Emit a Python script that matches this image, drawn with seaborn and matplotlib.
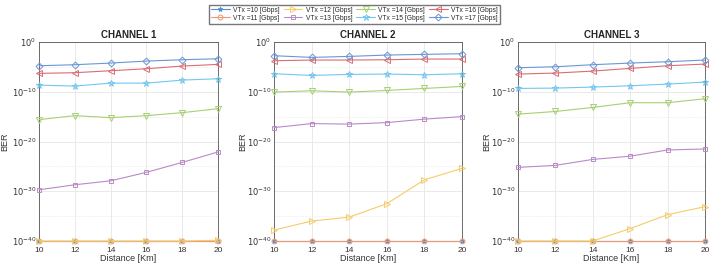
import numpy as np
import pandas as pd
import matplotlib
matplotlib.use("Agg")
import matplotlib.pyplot as plt
import seaborn as sns
from matplotlib.ticker import FixedLocator, NullFormatter

sns.set_style("white")
plt.rcParams['font.family'] = ['Liberation Sans', 'DejaVu Sans']

distance = [10, 12, 14, 16, 18, 20]
rates = [10, 11, 12, 13, 14, 15, 16, 17]
labels = [f"VTx ={r} [Gbps]" for r in rates]
titles = ["CHANNEL 1", "CHANNEL 2", "CHANNEL 3"]

# log10(BER), per channel, per VTx rate
ch1_vtx10 = [-40, -40, -40, -40, -40, -40]
ch1_vtx11 = [-40, -40, -40, -40, -40, -40]
ch1_vtx12 = [-40, -40, -40, -40, -40, -39.85]
ch1_vtx13 = [-29.7, -28.7, -27.9, -26.2, -24.2, -22.1]
ch1_vtx14 = [-15.6, -14.8, -15.2, -14.8, -14.2, -13.4]
ch1_vtx15 = [-8.66, -8.86, -8.26, -8.26, -7.65, -7.38]
ch1_vtx16 = [-6.3, -6.17, -5.77, -5.37, -4.83, -4.5]
ch1_vtx17 = [-4.77, -4.56, -4.23, -3.83, -3.56, -3.36]

ch2_vtx10 = [-40, -40, -40, -40, -40, -40]
ch2_vtx11 = [-40, -40, -40, -40, -40, -40]
ch2_vtx12 = [-37.8, -36.0, -35.2, -32.5, -27.7, -25.4]
ch2_vtx13 = [-17.2, -16.4, -16.5, -16.2, -15.5, -15.0]
ch2_vtx14 = [-10.07, -9.8, -10.07, -9.73, -9.33, -8.93]
ch2_vtx15 = [-6.38, -6.71, -6.51, -6.44, -6.58, -6.38]
ch2_vtx16 = [-3.76, -3.62, -3.62, -3.56, -3.42, -3.42]
ch2_vtx17 = [-2.75, -3.09, -2.89, -2.62, -2.48, -2.35]

ch3_vtx10 = [-40, -40, -40, -40, -40, -40]
ch3_vtx11 = [-40, -40, -40, -40, -40, -40]
ch3_vtx12 = [-40, -40, -40, -37.5, -34.7, -33.1]
ch3_vtx13 = [-25.2, -24.8, -23.6, -22.95, -21.7, -21.5]
ch3_vtx14 = [-14.5, -13.96, -13.15, -12.2, -12.2, -11.4]
ch3_vtx15 = [-9.33, -9.26, -9.06, -8.79, -8.46, -8.05]
ch3_vtx16 = [-6.44, -6.24, -5.84, -5.3, -4.77, -4.43]
ch3_vtx17 = [-5.17, -4.97, -4.56, -4.23, -3.96, -3.62]

channels = [
    [ch1_vtx10, ch1_vtx11, ch1_vtx12, ch1_vtx13, ch1_vtx14, ch1_vtx15, ch1_vtx16, ch1_vtx17],
    [ch2_vtx10, ch2_vtx11, ch2_vtx12, ch2_vtx13, ch2_vtx14, ch2_vtx15, ch2_vtx16, ch2_vtx17],
    [ch3_vtx10, ch3_vtx11, ch3_vtx12, ch3_vtx13, ch3_vtx14, ch3_vtx15, ch3_vtx16, ch3_vtx17],
]

colors = ["#4d8fd6", "#ea9a72", "#f5cc6a", "#b98ac8", "#a8cf74", "#74c6ee", "#dc6b74", "#6a97d6"]
markers = ["*", "o", ">", "s", "v", "*", "<", "D"]
msizes = [3.5, 3.5, 4.5, 3.5, 4.5, 4.5, 4.5, 3.5]

fig = plt.figure(figsize=(7.09, 2.66), dpi=100)
positions = [
    [39/709, 0.094, 179/709, 0.748],
    [274/709, 0.094, 188/709, 0.748],
    [518/709, 0.094, 187/709, 0.748],
]
ylabel_x = [-0.165, -0.14, -0.145]

handles = []
for ci, series in enumerate(channels):
    ax = fig.add_axes(positions[ci])
    for si, s in enumerate(series):
        df = pd.DataFrame({"Distance": distance, "BER": 10.0 ** np.array(s, dtype=float)})
        filled = si == 0
        sns.lineplot(data=df, x="Distance", y="BER", ax=ax, color=colors[si],
                     marker=markers[si], markersize=msizes[si],
                     markerfacecolor=colors[si] if filled else "none",
                     markeredgecolor=colors[si], markeredgewidth=0.7,
                     linewidth=0.8, label=labels[si], legend=False, clip_on=False, zorder=3)
    ax.set_yscale("log")
    ax.set_ylim(1e-40, 1e0)
    ax.set_xlim(10, 20)
    ax.set_xticks(distance)
    ax.yaxis.set_major_locator(FixedLocator([1e0, 1e-10, 1e-20, 1e-30, 1e-40]))
    ax.yaxis.set_minor_locator(FixedLocator([1e-5, 1e-15, 1e-25, 1e-35]))
    ax.yaxis.set_minor_formatter(NullFormatter())
    ax.set_yticklabels([r"$10^{0}$", r"$10^{-10}$", r"$10^{-20}$", r"$10^{-30}$", r"$10^{-40}$"])
    ax.grid(True, which="major", color="#e6e6e6", linewidth=0.6, linestyle="-")
    ax.grid(True, which="minor", axis="y", color="#e6e6e6", linewidth=0.6, linestyle=":")
    ax.tick_params(axis="both", which="both", labelsize=6, colors="#333333", length=2,
                   direction="in", pad=2)
    ax.tick_params(axis="x", pad=4)
    ax.tick_params(axis="y", which="minor", length=0)
    for sp in ax.spines.values():
        sp.set_color("#555555")
        sp.set_linewidth(0.6)
    ax.set_title(titles[ci], fontsize=7, fontweight="bold", pad=3)
    ax.set_xlabel("Distance [Km]", fontsize=6.5, color="#333333", labelpad=0.5)
    ax.set_ylabel("BER", fontsize=6.5, color="#333333")
    ax.yaxis.set_label_coords(ylabel_x[ci], 0.5)
    if ci == 0:
        handles = ax.get_lines()[:8]

fig.legend(handles=handles, labels=labels, loc="upper center", bbox_to_anchor=(0.5, 0.995),
           ncol=4, fontsize=4.8, frameon=True, fancybox=False, edgecolor="#555555",
           handlelength=2.8, columnspacing=0.6, borderpad=0.3, labelspacing=0.15,
           handletextpad=0.5)

fig.savefig("out.png", dpi=100)
